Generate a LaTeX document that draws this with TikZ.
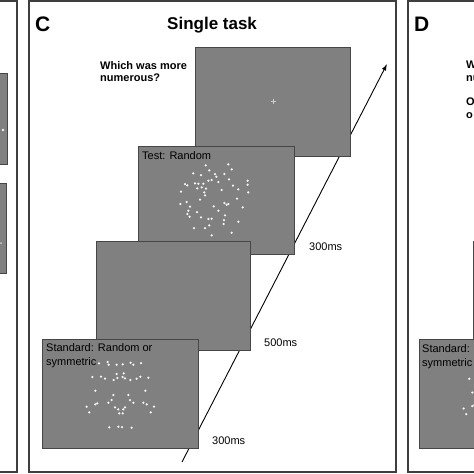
\documentclass[tikz,border=0pt]{standalone}
\usepackage{fontspec}
\setmainfont{Liberation Sans}
\usetikzlibrary{arrows.meta}
\definecolor{scr}{RGB}{128,128,128}
\definecolor{scredge}{RGB}{70,70,70}
\definecolor{framec}{RGB}{62,62,62}
\definecolor{dotc}{RGB}{244,244,244}
\definecolor{crossc}{RGB}{205,205,205}
\tikzset{
  screen/.style={draw=scredge, line width=0.9pt, fill=scr, inner sep=0pt, outer sep=0pt,
    anchor=north west, minimum width=155pt, minimum height=109pt},
  panelframe/.style={draw=framec, line width=2pt},
  lbl/.style={font=\fontsize{11}{13}\selectfont, inner sep=0pt, anchor=base west},
  qlbl/.style={font=\bfseries\fontsize{11}{13}\selectfont, inner sep=0pt, anchor=base west},
  ptitle/.style={font=\bfseries\fontsize{17}{20}\selectfont, inner sep=0pt, anchor=base west},
  pletter/.style={font=\bfseries\fontsize{21}{24}\selectfont, inner sep=0pt, anchor=base west},
  timeline/.style={draw=black, line width=0.9pt, -{Latex[length=6.5pt,width=4.5pt]}},
  dotfill/.style={fill=dotc}
}
\newcommand\stdpattern{%
  \foreach \x/\y in {99/363.3,107.7/362,108.7/364.7,116.7/364.7,122.7/364.3,130.7/362.7,133.3/364.7,141/363,
    116.7/374,123.7/373.3,92.3/377,101/376.7,105/378.7,113.7/380,117.3/378,122.7/377,125/378.3,130.3/380,
    136.7/378.7,140.3/376.7,148.3/377.7,95.3/390.7,145.3/390.7,113.3/395,111.7/400,108.3/402.7,128.3/395,
    130/400,133.3/402.7,97.3/403.3,95.3/404.3,143.3/402.7,146.7/404.3,86.7/406.7,89.3/412.3,115/407.3,
    118.3/409.3,125/407.3,123.3/409.3,119.3/413.3,122.7/413.3,154/406.7,150.7/412.3,109.3/427.3,118.3/426.7,
    122/427,131.7/427.7}
    {\fill[dotfill] (\x,\y) circle (1.25pt);}%
}
\begin{document}
\begin{tikzpicture}[x=1pt,y=-1pt]
\useasboundingbox (0,0) rectangle (474,474);
\clip (0,0) rectangle (474,474);
\fill[white] (0,0) rectangle (474,474);

% ---------- panel B (partial, left) ----------
\draw[panelframe] (-400,1) rectangle (16.5,472);
\node[screen, minimum width=30pt, minimum height=91pt] (bscreenA) at (-23,73) {};
\node[screen, minimum width=29pt, minimum height=90pt] (bscreenB) at (-23,183) {};
\fill[dotfill] (3,130) circle (1.3pt);
\fill[crossc] (1,243) circle (1pt);

% ---------- panel C ----------
\draw[panelframe] (29,1) rectangle (395.5,472);
\node[pletter] (cletter) at (35,31.5) {C};
\node[ptitle] (ctitle) at (167,29) {Single task};

\coordinate (astart) at (182,462);
\coordinate (aend) at (387,64);
\draw[timeline] (astart) -- (aend);

\node[screen] (resp) at (195,47) {};
\draw[crossc, line width=0.8pt] (270.5,101) -- (275.5,101) (273,98.5) -- (273,103.5);
\node[qlbl] (q1) at (100,69) {Which was more};
\node[qlbl] (q2) at (100,81.5) {numerous?};

\node[screen, minimum width=156pt, minimum height=108pt] (test) at (138,146) {};
\node[lbl] (testlbl) at (142,159) {Test: Random};
\foreach \x/\y in {205.7/165.3,228.3/164.3,231.7/169.3,209.3/170.3,193.3/173.3,201/175,215/174,224.3/174,
  216.3/176.7,208.3/180.7,211.7/180,229/179.3,247.7/180.7,185/184,187.3/185.3,195/183.3,198.3/183.7,
  203.3/183.7,218.3/182,247.7/184.7,233/185.7,197.3/188.3,201.7/187.3,206/188.7,221.7/190,238.3/189.3,
  248.3/192.3,181/191.7,204.3/192.3,205/195.3,200/199.7,237/198.7,186.7/202,180.3/204,190/206.7,224.3/203,
  226.7/204.7,228.3/204,213.7/206.3,242.7/207.3,188.3/210.7,197/212,218.3/210.7,187.3/214,225/215.3,
  189.7/216.7,201/217.3,208.3/219,211.7/218.7,224/220,238.3/221.7,223.7/224,209.3/225.3,194/228,205/228,
  231.7/232.7,211.7/235.3}
  {\fill[dotfill] (\x,\y) circle (1.25pt);}
\node[lbl] (t1) at (309,250.5) {300ms};

\node[screen, minimum width=154pt] (blank) at (96,241) {};
\node[lbl] (t2) at (264,346.5) {500ms};

\node[screen, minimum width=156pt] (std) at (42,339) {};
\node[lbl] (stdlbl1) at (46,351) {Standard: Random or};
\node[lbl] (stdlbl2) at (46,365) {symmetric};
\stdpattern
\node[lbl] (t3) at (212,444.5) {300ms};

% ---------- panel D (partial, right) ----------
\draw[panelframe] (408,1) rectangle (900,472);
\node[pletter] (dletter) at (414,31.5) {D};
\node[qlbl] (dq1) at (466,68.5) {Which was more};
\node[qlbl] (dq2) at (466,81) {numerous?};
\node[qlbl] (dq3) at (466,105.5) {O};
\node[qlbl] (dq4) at (466,118) {o};
\node[screen, minimum width=154pt] (dblank) at (473,241) {};
\node[screen, minimum width=156pt] (dstd) at (419,339.5) {};
\node[lbl] (dstdlbl1) at (422,352) {Standard: Random or};
\node[lbl] (dstdlbl2) at (422,366) {symmetric};
\begin{scope}[shift={(377,1.8)}]
  \stdpattern
\end{scope}
\end{tikzpicture}
\end{document}
